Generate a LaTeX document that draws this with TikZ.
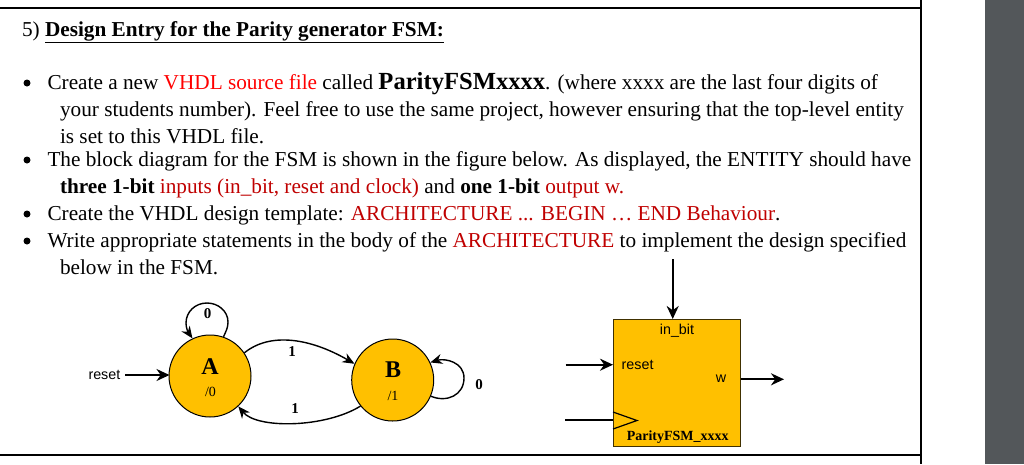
\documentclass[tikz,border=0pt]{standalone}
\usepackage{fontspec}
\setmainfont{Liberation Serif}
\setsansfont{Liberation Sans}
\usetikzlibrary{arrows.meta}
\definecolor{panel}{HTML}{53575A}
\definecolor{fsm}{HTML}{FFC000}
\definecolor{redt}{HTML}{C00000}
\definecolor{redb}{HTML}{FF0000}
\tikzset{
 tl/.style={anchor=base west,inner sep=0pt,outer sep=0pt,font=\fontsize{21.25}{24}\selectfont},
 bul/.style={circle,fill=black,inner sep=0pt,minimum size=7pt},
 rule/.style={line width=1.5pt,black},
 statenode/.style={circle,draw=black,line width=1pt,fill=fsm,minimum size=82pt,inner sep=0pt},
 small/.style={inner sep=0pt,font=\sffamily\fontsize{14.3}{16}\selectfont},
 bnum/.style={inner sep=0pt,font=\bfseries\fontsize{15}{17}\selectfont},
 conn/.style={line width=1.4pt,-{Stealth[length=12pt,width=10pt]}},
 bigconn/.style={line width=2pt,-{Stealth[length=13pt,width=12pt]}},
}
\begin{document}
\begin{tikzpicture}[x=1pt,y=-1pt]
\useasboundingbox (0,0) rectangle (1024,464);
\fill[white] (0,0) rectangle (1024,464);
\fill[panel] (985,0) rectangle (1024,464);
\draw[rule] (0,8) -- (921,8);
\draw[rule] (921,0) -- (921,464);
\draw[rule] (0,455) -- (921,455);
% text
\node[tl] (h) at (22,36) {5) \textbf{\underline{Design Entry for the Parity generator FSM:}}};
\node[bul] (b1) at (27,83) {};
\node[tl] (l1) at (47.5,89) {Create a new \textcolor{redb}{VHDL source file} called {\bfseries\fontsize{24.6}{24}\selectfont ParityFSMxxxx}. (where xxxx are the last four digits of};
\node[tl] (l2) at (60,116) {your students number). Feel free to use the same project, however ensuring that the top-level entity};
\node[tl] (l3) at (60,143) {is set to this VHDL file.};
\node[bul] (b2) at (27,160) {};
\node[tl] (l4) at (47.5,166) {The block diagram for the FSM is shown in the figure below. As displayed, the ENTITY should have};
\node[tl] (l5) at (60,193) {\textbf{three 1-bit} \textcolor{redt}{inputs (in\_bit, reset and clock)} and \textbf{one 1-bit} \textcolor{redt}{output w.}};
\node[bul] (b3) at (27,214) {};
\node[tl] (l6) at (47.5,220) {Create the VHDL design template: \textcolor{redt}{ARCHITECTURE ... BEGIN … END Behaviour}.};
\node[bul] (b4) at (27,241) {};
\node[tl] (l7) at (47.5,247) {Write appropriate statements in the body of the \textcolor{redt}{ARCHITECTURE} to implement the design specified};
\node[tl] (l8) at (60,274) {below in the FSM.};
% FSM
\node[statenode] (A) at (210,376) {};
\node[statenode] (B) at (392.7,380) {};
\node[inner sep=0pt,font=\bfseries\fontsize{24}{26}\selectfont] (Al) at (210,366.5) {A};
\node[inner sep=0pt,font=\bfseries\fontsize{24}{26}\selectfont] (Bl) at (393,370) {B};
\node[inner sep=0pt,font=\fontsize{14}{16}\selectfont] (Ao) at (210.5,392) {/0};
\node[inner sep=0pt,font=\fontsize{14}{16}\selectfont] (Bo) at (393,396) {/1};
\node[small,anchor=east] (rs) at (120.5,374.5) {reset};
\coordinate (rsb) at (125,375);
\coordinate (rse) at (169.5,375);
\draw[line width=2pt,-{Stealth[length=13pt,width=12pt]}] (rsb) -- (rse);
\draw[conn] (A.71) .. controls (226,331) and (228,328) .. (228,322) .. controls (228,311) and (218,303) .. (207,303) .. controls (195,303) and (186,312) .. (186,323) .. controls (186,328) and (188,332) .. (A.115);
\draw[conn] (A.34) .. controls (270,332) and (310,338) .. (B.157);
\draw[conn] (B.219) .. controls (325,428) and (257,429) .. (A.-47);
\draw[conn] (B.-23) .. controls (447,403) and (464,395) .. (464,378) .. controls (464,362) and (445,358) .. (B.25);
\node[bnum] (z1) at (207.7,314) {0};
\node[bnum] (o1) at (292,352) {1};
\node[bnum] (o2) at (295,409) {1};
\node[bnum] (z2) at (479,385) {0};
% block
\node[draw=black!75!fsm,line width=.8pt,fill=fsm,minimum width=127.5pt,minimum height=127.5pt,inner sep=0pt] (F) at (677,383) {};
\node[small] (ib) at (677,331) {in\_bit};
\node[small,anchor=west] (re) at (621.5,365) {reset};
\node[small] (wl) at (721,379) {w};
\node[inner sep=0pt,font=\bfseries\fontsize{14}{16}\selectfont] (pn) at (677.7,437.5) {ParityFSM\_xxxx};
\coordinate (c1) at (672.7,259);
\coordinate (c2) at (565.7,364.7);
\coordinate (c3) at (613,364.7);
\coordinate (c4) at (784,379.3);
\coordinate (c5) at (741,379.3);
\coordinate (c6) at (565,420.3);
\coordinate (c7) at (613,420.3);
\coordinate (c8) at (672.7,319);
\draw[bigconn] (c1) -- (c8);
\draw[bigconn] (c2) -- (c3);
\draw[bigconn] (c5) -- (c4);
\draw[line width=1.8pt] (c6) -- (c7);
\draw[line width=1.2pt] (613,412) -- (637,420.5) -- (613,429);
\end{tikzpicture}
\end{document}
